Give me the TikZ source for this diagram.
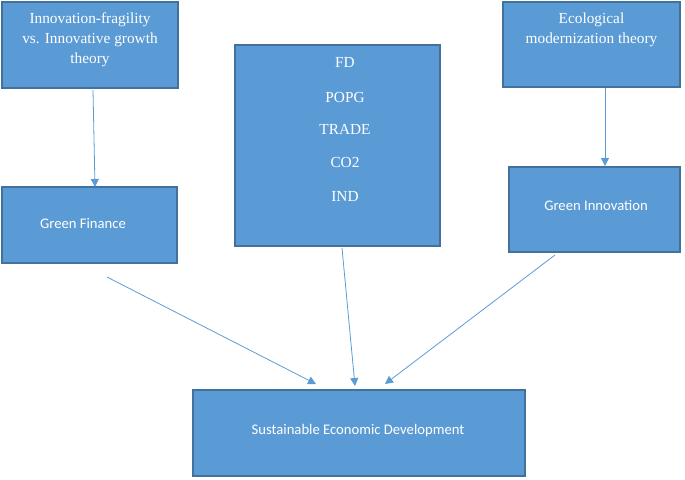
\documentclass[tikz,border=0pt]{standalone}
\usepackage{fontspec}
\newfontfamily\sansfont{Carlito}
\setmainfont{Liberation Serif}
\usetikzlibrary{arrows.meta}
\definecolor{boxblue}{HTML}{5B9BD5}
\definecolor{edgeblue}{HTML}{41719C}
\begin{document}
\begin{tikzpicture}[x=0.75pt,y=-0.75pt,
  box/.style = {draw=edgeblue,fill=boxblue,line width=0.8pt,inner sep=0pt},
  link/.style = {draw=boxblue,line width=0.6pt,-{Triangle[length=6pt,width=6pt]}}]
	\useasboundingbox (0,0) rectangle (685,479);
	\begin{scope}[every node/.style={box}]
		\node[minimum width=176*0.75pt,minimum height=86*0.75pt] (F) at (90,45) {};
		\node[minimum width=175*0.75pt,minimum height=76*0.75pt] (G) at (89.5,225) {};
		\node[minimum width=205*0.75pt,minimum height=201*0.75pt] (V) at (337.5,145.5) {};
		\node[minimum width=177*0.75pt,minimum height=85*0.75pt] (E) at (591.5,44.5) {};
		\node[minimum width=171*0.75pt,minimum height=85*0.75pt] (I) at (594.5,209.5) {};
		\node[minimum width=332*0.75pt,minimum height=86*0.75pt] (S) at (359,433) {};
	\end{scope}
	\begin{scope}[every node/.style={text=white,font=\fontsize{11.5}{15}\selectfont,align=center}]
		\node (Ft) at (90,40) {Innovation-fragility\\vs. Innovative growth\\theory};
		\node (Et) at (591.5,30) {Ecological\\modernization theory};
		\node[font=\sansfont\fontsize{11}{13}\selectfont] (Gt) at (83,224) {Green Finance};
		\node[font=\sansfont\fontsize{11}{13}\selectfont] (It) at (596,205) {Green Innovation};
		\node[font=\sansfont\fontsize{11}{13}\selectfont] (St) at (358,431) {Sustainable Economic Development};
		\node (v1) at (345,62) {FD};
		\node (v2) at (345,97) {POPG};
		\node (v3) at (345,129) {TRADE};
		\node (v4) at (345,162) {CO2};
		\node (v5) at (345,196) {IND};
	\end{scope}
	% connector ends
	\coordinate (a1) at (93,90);
	\coordinate (a1e) at (95,187);
	\coordinate (a2) at (605,88);
	\coordinate (a2e) at (605,166);
	\coordinate (b1) at (107,277);
	\coordinate (b1e) at (316,384);
	\coordinate (b2) at (342,248);
	\coordinate (b2e) at (355,386);
	\coordinate (b3) at (555,255);
	\coordinate (b3e) at (385,384);
	\draw[link] (a1) -- (a1e);
	\draw[link] (a2) -- (a2e);
	\draw[link] (b1) -- (b1e);
	\draw[link] (b2) -- (b2e);
	\draw[link] (b3) -- (b3e);
\end{tikzpicture}
\end{document}
